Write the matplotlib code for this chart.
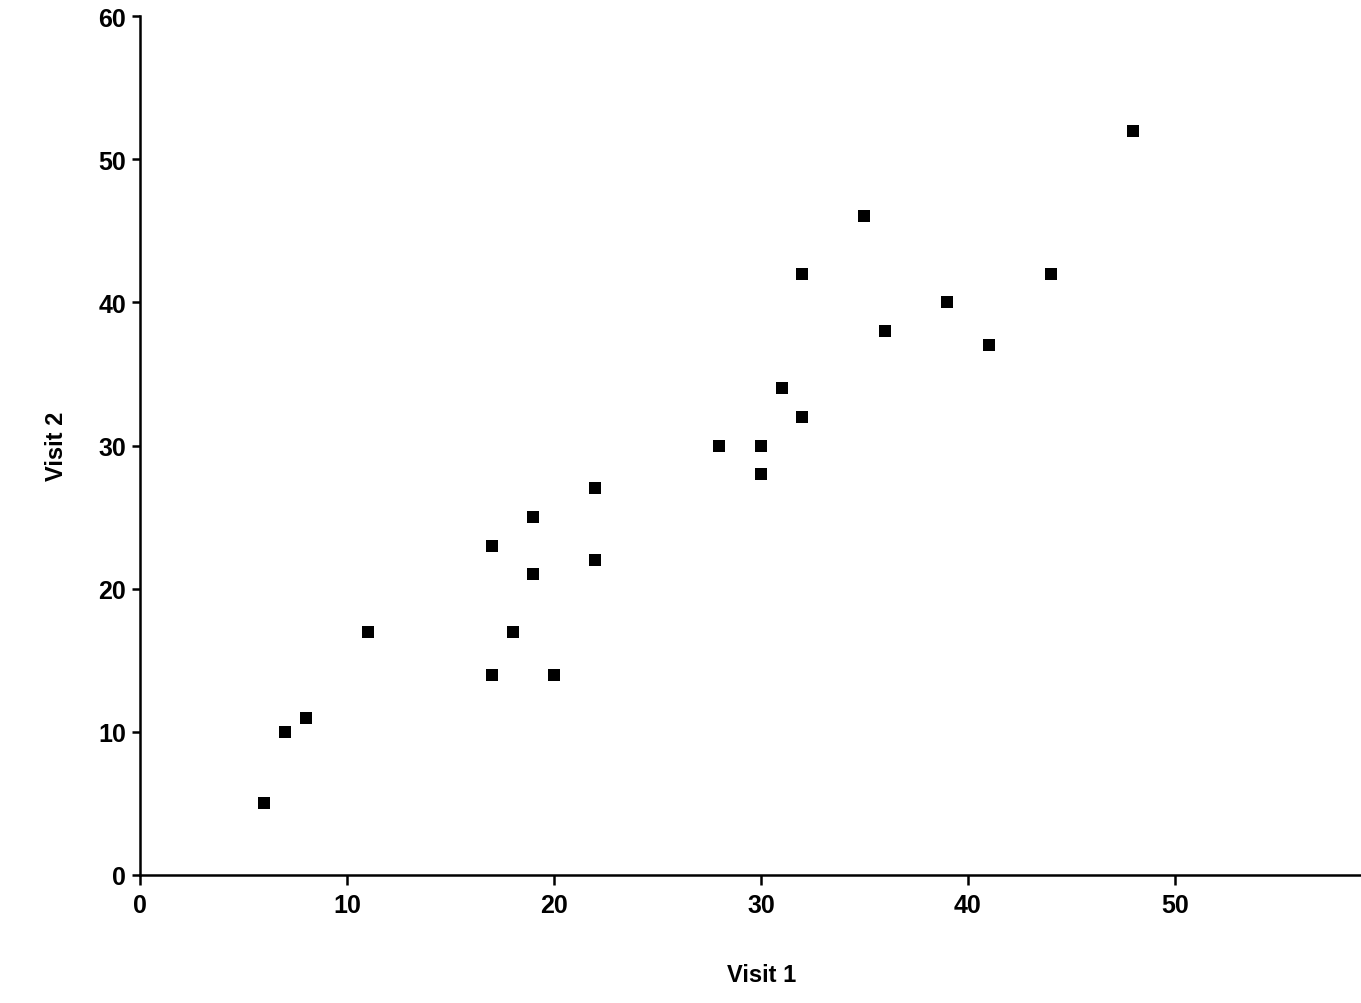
import matplotlib.pyplot as plt
import numpy as np

# values
visit1 = [6, 7, 8, 11, 17, 17, 18, 19, 19, 20, 22, 22,
          28, 30, 30, 31, 32, 32, 35, 36, 39, 41, 44, 48]
visit2 = [5, 10, 11, 17, 23, 14, 17, 25, 21, 14, 27, 22,
          30, 30, 28, 34, 42, 32, 46, 38, 40, 37, 42, 52]
x_ticks = [0, 10, 20, 30, 40, 50]
y_ticks = [0, 10, 20, 30, 40, 50, 60]

plt.rcParams['font.family'] = ['Liberation Sans', 'DejaVu Sans']

fig = plt.figure(figsize=(13.61, 10.04), dpi=100)
ax = fig.add_axes([0.1029, 0.1275, 0.8971, 0.8555])

ax.scatter(visit1, visit2, marker='s', s=70, color='black', linewidths=0)

ax.set_xlim(0, 59)
ax.set_ylim(0, 60)
ax.set_xticks(x_ticks)
ax.set_yticks(y_ticks)

for s in ['top', 'right']:
    ax.spines[s].set_visible(False)
for s in ['left', 'bottom']:
    ax.spines[s].set_linewidth(1.8)

ax.tick_params(axis='x', direction='out', length=7, width=1.8, pad=6, labelsize=18)
ax.tick_params(axis='y', direction='out', length=6, width=1.8, pad=4, labelsize=18)
for lab in ax.get_xticklabels() + ax.get_yticklabels():
    lab.set_fontweight('bold')

ax.set_xlabel('Visit 1', fontsize=17, fontweight='bold', labelpad=33)
ax.set_ylabel('Visit 2', fontsize=17, fontweight='bold', labelpad=22)
# the label sits under the 30 tick in the original, a bit right of centre
ax.xaxis.label.set_x(0.509)

fig.savefig('out.png', dpi=100)
